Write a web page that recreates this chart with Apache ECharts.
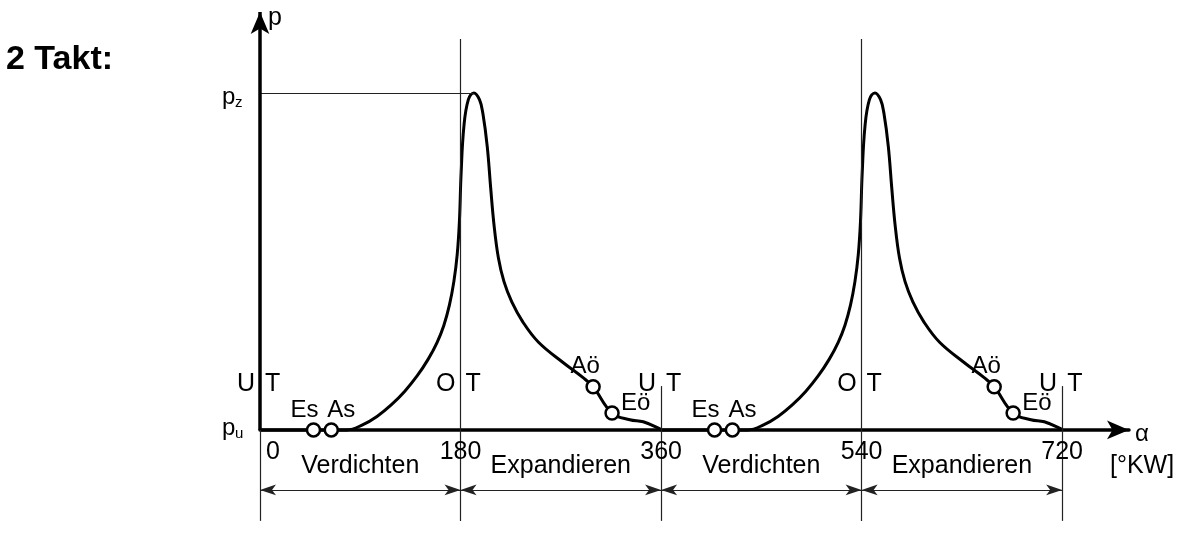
<!DOCTYPE html>
<html><head><meta charset="utf-8">
<script src="https://cdn.jsdelivr.net/npm/echarts@6/dist/echarts.min.js"></script>
<style>html,body{margin:0;background:#fff}#c{width:1203px;height:539px}</style>
</head><body><div id="c"></div>
<script>
// crank angle [°KW] and pressure (0 = p_u, 100 = p_z) for one cycle
const cycleDeg = [0, 78, 92, 105, 118, 130, 141, 151, 159, 165, 170, 174, 177, 179, 180.5, 183, 187, 192, 197, 200, 204, 207, 210, 214, 219, 226, 236, 250, 272, 290, 299, 316, 332, 344, 359, 360];
const cyclePress = [0, 0, 1.5, 4, 7.5, 11.5, 16, 21, 26, 31, 37, 44, 52, 62, 76, 90, 98, 100, 98, 94, 84, 72, 61, 51, 44, 38, 32, 26, 20, 15.5, 12.8, 5, 3, 2.4, 0.3, 0];
const valveDeg = [48, 64, 299, 316];
const valvePress = [0, 0, 12.8, 5];
const valveNames = ["Es", "As", "Aö", "Eö"];
const xTicks = [0, 180, 360, 540, 720];
const phases = ["Verdichten", "Expandieren", "Verdichten", "Expandieren"];

const curve = [];
[0, 360].forEach(function (off) {
  cycleDeg.forEach(function (d, i) { curve.push([d + off, cyclePress[i]]); });
});
const valves = [];
[0, 360].forEach(function (off) {
  valveDeg.forEach(function (d, i) { valves.push([d + off, valvePress[i]]); });
});

const thin = { color: "#222", width: 1.2, type: "solid" };
const el = document.getElementById("c");
const chart = echarts.init(el, null, { renderer: "canvas" });
const font = "Arial, 'Liberation Sans', sans-serif";

const vLines = [
  [[0, -27], [0, 0]],
  [[180, -27], [180, 116]],
  [[360, -27], [360, 13]],
  [[540, -27], [540, 116]],
  [[720, -27], [720, 13]],
  [[0, 100], [192, 100]]
];
const dims = [];
for (let i = 0; i < 4; i++) dims.push([{ coord: [xTicks[i], -17.8] }, { coord: [xTicks[i + 1], -17.8] }]);

chart.setOption({
  animation: false,
  grid: { left: 260, right: 74, top: 12, bottom: 8, outerBoundsMode: "none", containLabel: false },
  xAxis: {
    type: "value", min: 0, max: 780, interval: 180,
    axisLine: { onZero: true, symbol: ["none", "arrow"], symbolSize: [14, 22], lineStyle: { color: "#000", width: 3.5 } },
    axisTick: { show: false }, splitLine: { show: false }, axisLabel: { show: false }
  },
  yAxis: {
    type: "value", min: -30, max: 124,
    axisLine: { show: false }, axisTick: { show: false }, splitLine: { show: false }, axisLabel: { show: false }
  },
  series: [
    {
      type: "line", data: curve, smooth: 0.4, symbol: "none",
      lineStyle: { color: "#000", width: 3 }, z: 4,
      markLine: {
        silent: true, symbol: "none", label: { show: false }, lineStyle: thin,
        data: vLines.map(function (p) { return [{ coord: p[0] }, { coord: p[1] }]; })
      }
    },
    {
      type: "line", data: [], symbol: "none",
      markLine: { silent: true, symbol: ["arrow", "arrow"], symbolSize: [8, 16], label: { show: false },
        lineStyle: { color: "#222", width: 1.2, type: "solid" }, data: dims }
    },
    {
      type: "line", data: [], symbol: "none", z: 5,
      markLine: { silent: true, symbol: ["none", "arrow"], symbolSize: [14, 22], label: { show: false },
        lineStyle: { color: "#000", width: 3.5, type: "solid" },
        data: [[{ coord: [0, 0] }, { coord: [0, 124] }]] }
    },
    {
      type: "scatter", data: valves, symbol: "circle", symbolSize: 13, z: 6,
      itemStyle: { color: "#fff", opacity: 1, borderColor: "#000", borderWidth: 2.5 }
    }
  ]
});

function px(d, p) { return chart.convertToPixel({ gridIndex: 0 }, [d, p]); }
const g = [];
function txt(x, y, s, size, align) {
  g.push({ type: "text", x: x, y: y, z: 10, style: { text: s, fill: "#000", font: (size || 20) + "px " + font, textAlign: align || "left", textVerticalAlign: "middle" } });
}
txt(6, 60, "2 Takt:", 34, "left");
g[0].style.font = "bold 34px " + font;
const o = px(0, 0);
txt(o[0] + 8, 18, "p", 25);
txt(o[0] - 38, 97, "p", 24);
txt(o[0] - 25, 103, "z", 15);
txt(o[0] - 38, 428, "p", 24);
txt(o[0] - 25, 434, "u", 15);
xTicks.forEach(function (d, i) {
  const q = px(d, 0);
  txt(i === 0 ? q[0] + 6 : q[0], 452, String(d), 25, i === 0 ? "left" : "center");
});
[0, 360, 720].forEach(function (d) { const q = px(d, 0); txt(q[0] - 5, 384, "U", 25, "right"); txt(q[0] + 5, 384, "T", 25, "left"); });
[180, 540].forEach(function (d) { const q = px(d, 0); txt(q[0] - 5, 384, "O", 25, "right"); txt(q[0] + 5, 384, "T", 25, "left"); });
[0, 360].forEach(function (off) {
  let q = px(valveDeg[0] + off, 0); txt(q[0] - 9, 410, valveNames[0], 24, "center");
  q = px(valveDeg[1] + off, 0); txt(q[0] + 10, 410, valveNames[1], 24, "center");
  q = px(valveDeg[2] + off, valvePress[2]); txt(q[0] - 8, q[1] - 20, valveNames[2], 24, "center");
  q = px(valveDeg[3] + off, valvePress[3]); txt(q[0] + 9, q[1] - 10, valveNames[3], 24, "left");
});
for (let i = 0; i < 4; i++) {
  const a = px(xTicks[i], 0), b = px(xTicks[i + 1], 0);
  txt((a[0] + b[0]) / 2, 466, phases[i], 25, "center");
}
txt(1135, 434, "α", 24, "left");
txt(1110, 466, "[°KW]", 25, "left");
chart.setOption({ graphic: g });
</script></body></html>
